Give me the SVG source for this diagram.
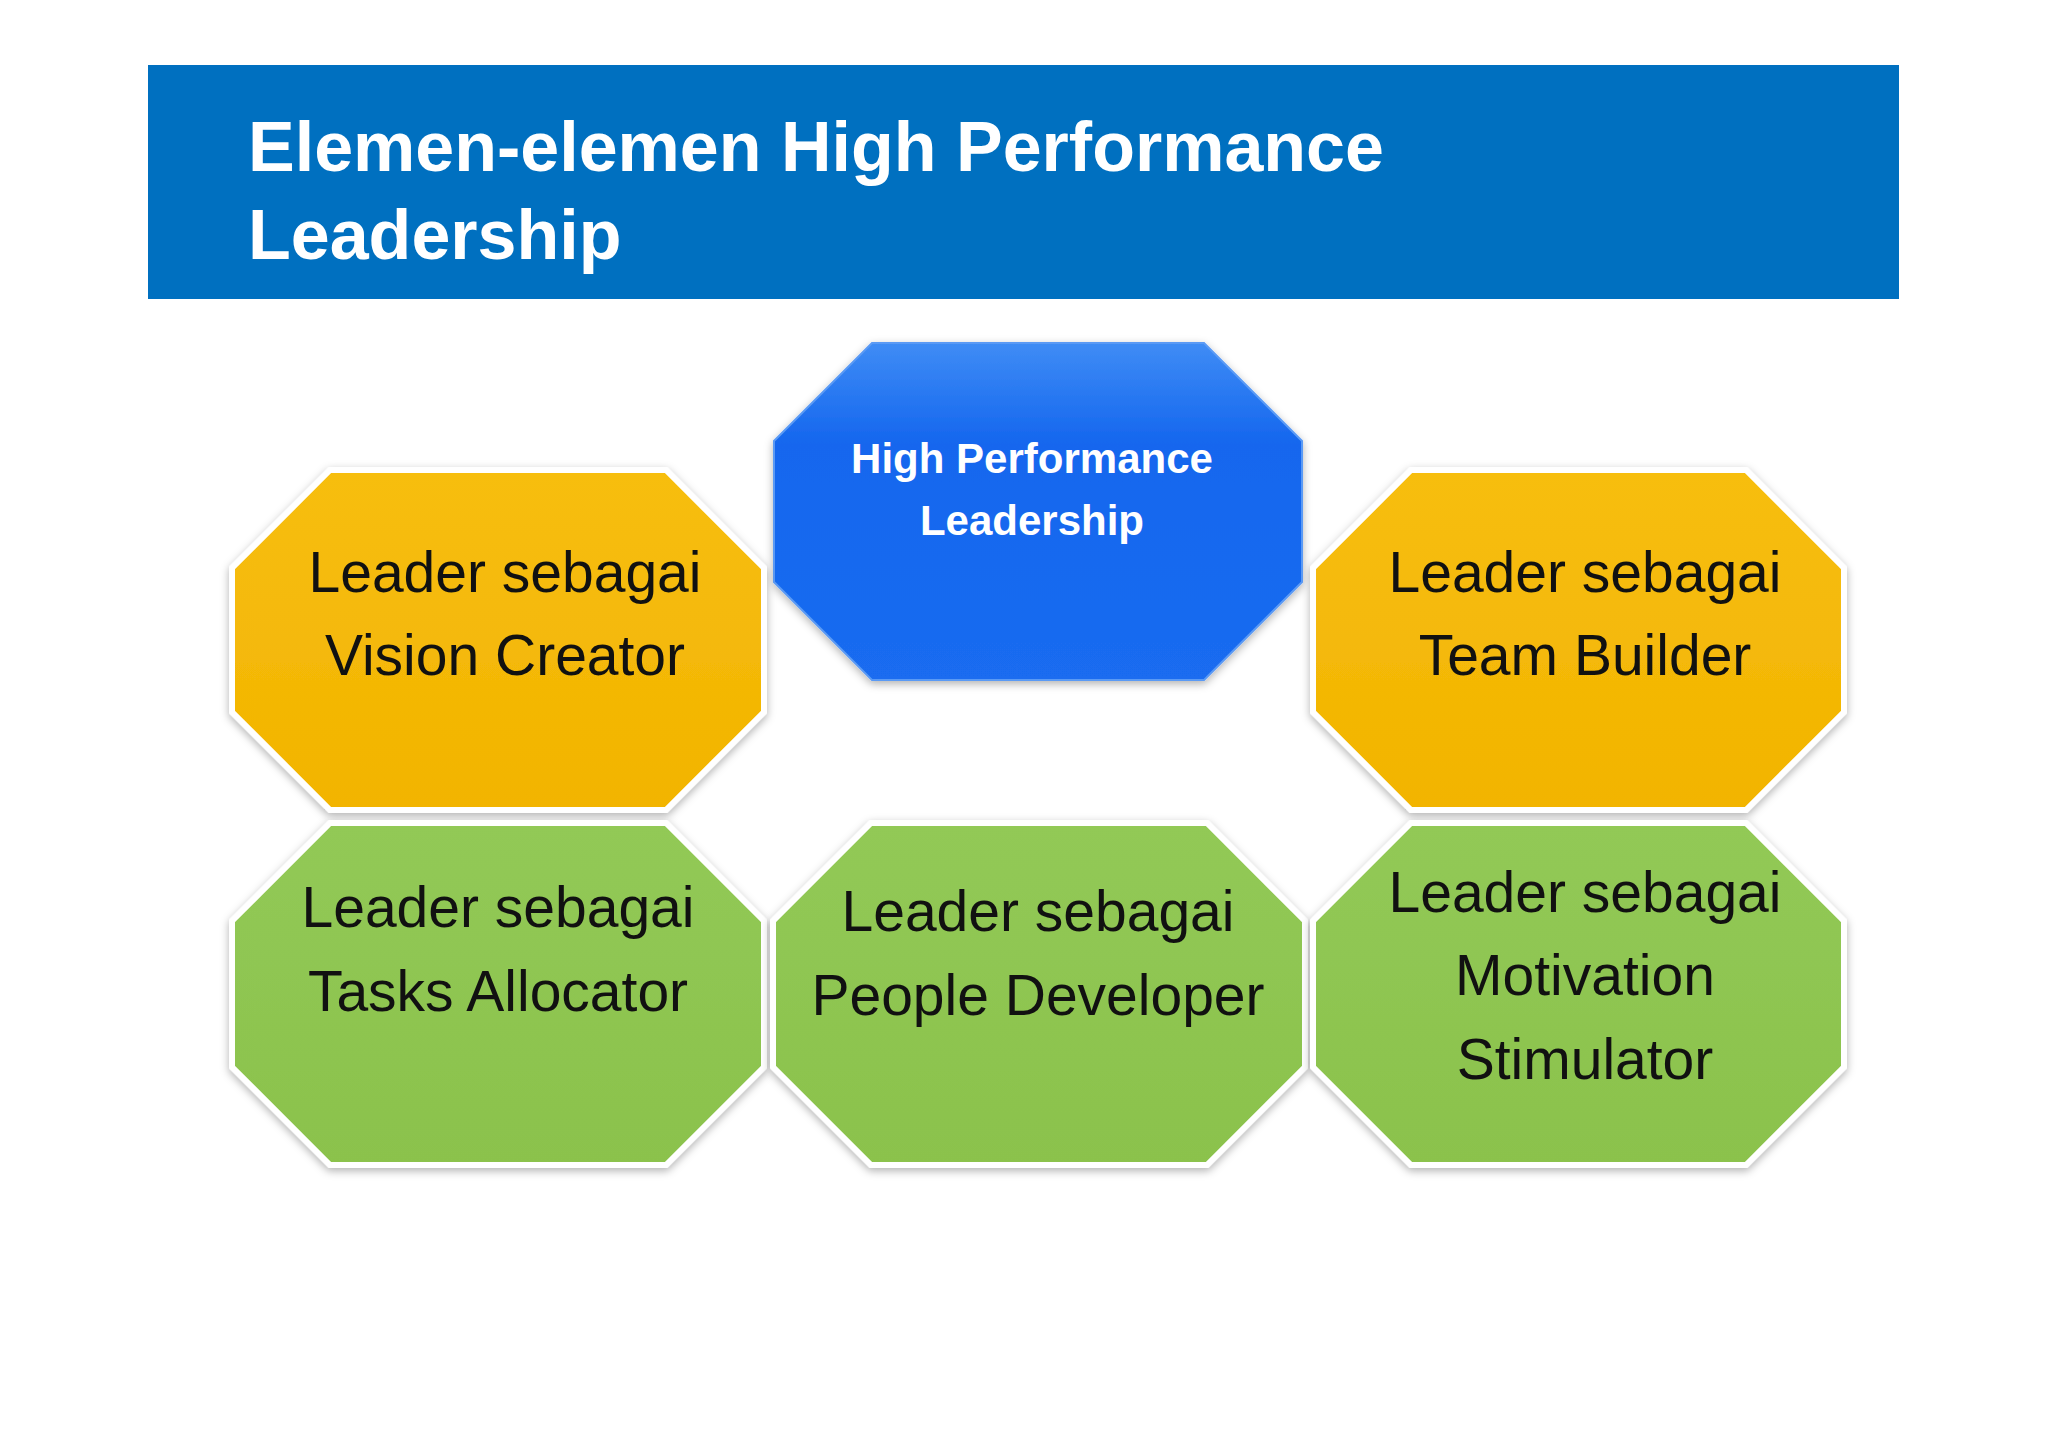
<svg xmlns="http://www.w3.org/2000/svg" width="2048" height="1447" viewBox="0 0 2048 1447">
<defs>
<linearGradient id="gb" x1="0" y1="0" x2="0" y2="1"><stop offset="0" stop-color="#3f8cf5"/><stop offset="0.3" stop-color="#1466ee"/><stop offset="1" stop-color="#1a6cf0"/></linearGradient>
<linearGradient id="gy" x1="0" y1="0" x2="0" y2="1"><stop offset="0" stop-color="#f7be10"/><stop offset="1" stop-color="#f2b400"/></linearGradient>
<linearGradient id="gg" x1="0" y1="0" x2="0" y2="1"><stop offset="0" stop-color="#92c956"/><stop offset="1" stop-color="#8bc24c"/></linearGradient>
<filter id="sh" x="-10%" y="-10%" width="120%" height="120%"><feDropShadow dx="0" dy="3" stdDeviation="4" flood-opacity="0.3"/></filter>
</defs>
<style>
.oct{stroke:#ffffff;stroke-width:6;filter:url(#sh)}
.y{fill:url(#gy)} .g{fill:url(#gg)} .b{fill:url(#gb);stroke:#5a9af5;stroke-width:2}
.t{font-family:"Liberation Sans",Arial,sans-serif;font-size:57px;fill:#111;text-anchor:middle}
.h{font-family:"Liberation Sans",Arial,sans-serif;font-size:42px;font-weight:bold;fill:#fff;text-anchor:middle}
.ti{font-family:"Liberation Sans",Arial,sans-serif;font-size:70px;font-weight:bold;fill:#fff}
</style>
<rect width="2048" height="1447" fill="#fff"/>
<g id="title"><rect x="148" y="65" width="1751" height="234" fill="#0070c0"/>
<text class="ti" x="248" y="171">Elemen-elemen High Performance</text>
<text class="ti" x="248" y="259">Leadership</text></g>
<g id="center"><polygon class="b" filter="url(#sh)" points="872,343 1204,343 1302,441 1302,582 1204,680 872,680 774,582 774,441"/>
<text class="h" x="1032" y="473">High Performance</text><text class="h" x="1032" y="535">Leadership</text></g>
<g id="vision"><polygon class="oct y" points="330,470 666,470 764,568 764,712 666,810 330,810 232,712 232,568"/>
<text class="t" x="505" y="592">Leader sebagai</text><text class="t" x="505" y="675">Vision Creator</text></g>
<g id="team"><polygon class="oct y" points="1411,470 1746,470 1844,568 1844,712 1746,810 1411,810 1313,712 1313,568"/>
<text class="t" x="1585" y="592">Leader sebagai</text><text class="t" x="1585" y="675">Team Builder</text></g>
<g id="tasks"><polygon class="oct g" points="330,823 666,823 764,921 764,1067 666,1165 330,1165 232,1067 232,921"/>
<text class="t" x="498" y="927">Leader sebagai</text><text class="t" x="498" y="1011">Tasks Allocator</text></g>
<g id="people"><polygon class="oct g" points="871,823 1207,823 1305,921 1305,1067 1207,1165 871,1165 773,1067 773,921"/>
<text class="t" x="1038" y="931">Leader sebagai</text><text class="t" x="1038" y="1015">People Developer</text></g>
<g id="motivation"><polygon class="oct g" points="1411,823 1746,823 1844,921 1844,1067 1746,1165 1411,1165 1313,1067 1313,921"/>
<text class="t" x="1585" y="912">Leader sebagai</text><text class="t" x="1585" y="995">Motivation</text><text class="t" x="1585" y="1079">Stimulator</text></g>
<g id="connectors"/>
</svg>
